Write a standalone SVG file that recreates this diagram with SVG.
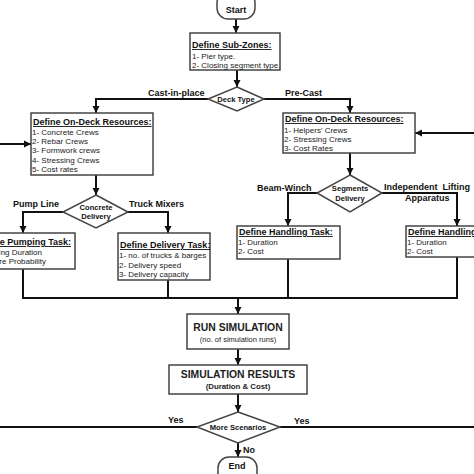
<svg xmlns="http://www.w3.org/2000/svg" width="474" height="474" viewBox="0 0 474 474">
<defs>
<marker id="ah" markerWidth="8" markerHeight="8" refX="7" refY="4" orient="auto" markerUnits="userSpaceOnUse">
<path d="M0,0.5 L7,4 L0,7.5 Z" fill="#111"/>
</marker>
<style>
.box{fill:#fff;stroke:#444;stroke-width:1.5}
.ln{fill:none;stroke:#111;stroke-width:2}
.t{font-family:"Liberation Sans",Arial,sans-serif;fill:#222}
.ttl{font-family:"Liberation Sans",Arial,sans-serif;font-weight:bold;font-size:9px;text-decoration:underline;fill:#111}
.li{font-family:"Liberation Sans",Arial,sans-serif;font-size:8px;fill:#222}
.lb{font-family:"Liberation Sans",Arial,sans-serif;font-weight:bold;font-size:9px;fill:#111}
.dt{font-family:"Liberation Sans",Arial,sans-serif;font-weight:bold;font-size:7.6px;fill:#111;text-anchor:middle}
</style>
</defs>
<rect width="474" height="474" fill="#fff"/>
<g id="connectors">
<path class="ln" d="M236,19 V33" marker-end="url(#ah)"/>
<path class="ln" d="M237,70 V87" marker-end="url(#ah)"/>
<path class="ln" d="M208,99 H96 V113" marker-end="url(#ah)"/>
<path class="ln" d="M264,99 H350 V113" marker-end="url(#ah)"/>
<path class="ln" d="M0,144 H31" marker-end="url(#ah)"/>
<path class="ln" d="M474,133 H415" marker-end="url(#ah)"/>
<path class="ln" d="M96,175 V195" marker-end="url(#ah)"/>
<path class="ln" d="M350,153 V175" marker-end="url(#ah)"/>
<path class="ln" d="M63,212 H23 V233" marker-end="url(#ah)"/>
<path class="ln" d="M128,212 H168 V233" marker-end="url(#ah)"/>
<path class="ln" d="M317,193 H288 V226" marker-end="url(#ah)"/>
<path class="ln" d="M382,193 H457 V226" marker-end="url(#ah)"/>
<path class="ln" d="M23,269 V298 H457 V257"/>
<path class="ln" d="M168,280 V298"/>
<path class="ln" d="M288,259 V298"/>
<path class="ln" d="M238,298 V314" marker-end="url(#ah)"/>
<path class="ln" d="M238,349 V365" marker-end="url(#ah)"/>
<path class="ln" d="M238,394 V412" marker-end="url(#ah)"/>
<path class="ln" d="M197,427 H0"/>
<path class="ln" d="M280,427 H474"/>
<path class="ln" d="M238,443 V457" marker-end="url(#ah)"/>
<text class="lb" x="148" y="96">Cast-in-place</text>
<text class="lb" x="285" y="96">Pre-Cast</text>
<text class="lb" x="13" y="207">Pump Line</text>
<text class="lb" x="129" y="207">Truck Mixers</text>
<text class="lb" x="257" y="191">Beam-Winch</text>
<text class="lb" x="384" y="190" xml:space="preserve">Independent  Lifting</text>
<text class="lb" x="405" y="201">Apparatus</text>
<text class="lb" x="168" y="423">Yes</text>
<text class="lb" x="294" y="424">Yes</text>
<text class="lb" x="243" y="453">No</text>
</g>
<g id="start">
<rect x="217" y="-8" width="38" height="27" rx="11" class="box" stroke-width="2"/>
<text class="lb" x="236" y="13" text-anchor="middle">Start</text>
</g>
<g id="subzones">
<rect class="box" x="190" y="33" width="90" height="37"/>
<text class="ttl" x="192" y="48">Define Sub-Zones:</text>
<text class="li" x="192" y="59">1- Pier type.</text>
<text class="li" x="192" y="68">2- Closing segment type.</text>
</g>
<g id="decktype">
<polygon class="box" points="237,87 264,99 237,111 208,99"/>
<text class="dt" x="236" y="102">Deck Type</text>
</g>
<g id="cip-resources">
<rect class="box" x="31" y="113" width="122" height="62"/>
<text class="ttl" x="33" y="125">Define On-Deck Resources:</text>
<text class="li" x="32" y="135">1- Concrete Crews</text>
<text class="li" x="32" y="144">2- Rebar Crews</text>
<text class="li" x="32" y="153">3- Formwork crews</text>
<text class="li" x="32" y="163">4- Stressing Crews</text>
<text class="li" x="32" y="172">5- Cost rates</text>
</g>
<g id="pc-resources">
<rect class="box" x="283" y="113" width="132" height="40"/>
<text class="ttl" x="285" y="122">Define On-Deck Resources:</text>
<text class="li" x="284" y="133">1- Helpers' Crews</text>
<text class="li" x="284" y="142">2- Stressing Crews</text>
<text class="li" x="284" y="151">3- Cost Rates</text>
</g>
<g id="concrete-delivery">
<polygon class="box" points="96,195 128,212 96,228 63,212"/>
<text class="dt" x="96" y="210">Concrete</text>
<text class="dt" x="96" y="219">Delivery</text>
</g>
<g id="segments-delivery">
<polygon class="box" points="350,175 382,193 350,212 317,193"/>
<text class="dt" x="350" y="191">Segments</text>
<text class="dt" x="350" y="201">Delivery</text>
</g>
<g id="pumping-task">
<rect class="box" x="-10" y="233" width="85" height="36"/>
<text class="ttl" x="71" y="245" text-anchor="end">Define Pumping Task:</text>
<text class="li" x="42" y="255" text-anchor="end">1- Pumping Duration</text>
<text class="li" x="46" y="264" text-anchor="end">2- Failure Probability</text>
</g>
<g id="delivery-task">
<rect class="box" x="118" y="233" width="92" height="47"/>
<text class="ttl" x="120" y="248">Define Delivery Task:</text>
<text class="li" x="119" y="258">1- no. of trucks &amp; barges</text>
<text class="li" x="119" y="268">2- Delivery speed</text>
<text class="li" x="119" y="277">3- Delivery capacity</text>
</g>
<g id="handling-task-1">
<rect class="box" x="237" y="226" width="103" height="33"/>
<text class="ttl" x="239" y="235">Define Handling Task:</text>
<text class="li" x="238" y="245">1- Duration</text>
<text class="li" x="238" y="254">2- Cost</text>
</g>
<g id="handling-task-2">
<rect class="box" x="406" y="226" width="80" height="31"/>
<text class="ttl" x="408" y="235">Define Handling Task:</text>
<text class="li" x="407" y="245">1- Duration</text>
<text class="li" x="407" y="254">2- Cost</text>
</g>
<g id="run-simulation">
<rect class="box" x="187" y="314" width="102" height="35"/>
<text class="t" x="238" y="331" text-anchor="middle" font-weight="bold" font-size="10.4">RUN SIMULATION</text>
<text class="t" x="238" y="342" text-anchor="middle" font-size="7.5">(no. of simulation runs)</text>
</g>
<g id="simulation-results">
<rect class="box" x="169" y="365" width="138" height="29"/>
<text class="t" x="238" y="378" text-anchor="middle" font-weight="bold" font-size="10.4">SIMULATION RESULTS</text>
<text class="t" x="238" y="389" text-anchor="middle" font-weight="bold" font-size="7.8">(Duration &amp; Cost)</text>
</g>
<g id="more-scenarios">
<polygon class="box" points="238,412 280,427 238,443 197,427"/>
<text class="dt" x="238" y="430">More Scenarios</text>
</g>
<g id="end">
<rect x="218" y="457" width="39" height="27" rx="11" class="box" stroke-width="2"/>
<text class="lb" x="237" y="469" text-anchor="middle">End</text>
</g>
</svg>
